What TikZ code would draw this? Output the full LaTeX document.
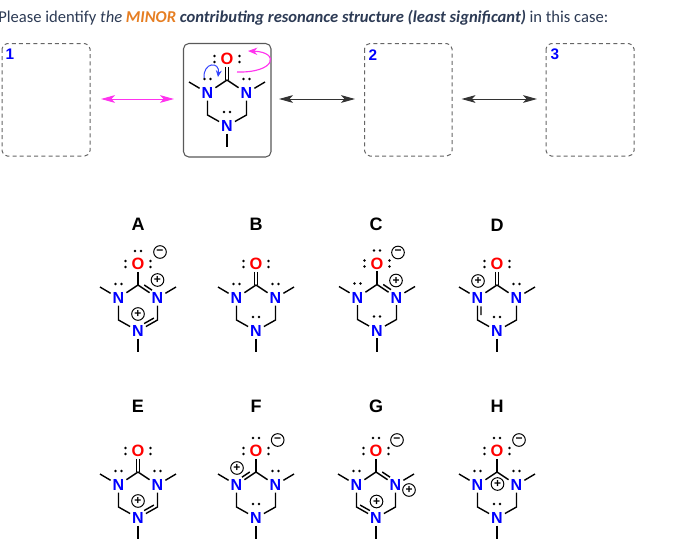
\documentclass[tikz,border=0pt]{standalone}
\usepackage{fontspec}
\setmainfont{Carlito}
\newfontfamily\chemfont{Liberation Sans}
\usetikzlibrary{arrows.meta,calc}
\definecolor{titlecol}{HTML}{2D3B55}
\definecolor{minorcol}{HTML}{E67E22}
\definecolor{magentaarrow}{HTML}{FF33EE}
\definecolor{bluearrow}{HTML}{3344FF}
\tikzset{
  bond/.style={line width=1.05pt,black},
  atomN/.style={inner sep=1.4pt,text=blue,font=\chemfont\bfseries\fontsize{12}{13}\selectfont},
  atomO/.style={inner sep=1.4pt,text=red,font=\chemfont\bfseries\fontsize{12.3}{14}\selectfont},
  letter/.style={font=\chemfont\bfseries\fontsize{13.5}{15}\selectfont},
  chg/.style={circle,draw,line width=0.75pt,minimum size=9.5pt,inner sep=0pt,font=\chemfont\bfseries\fontsize{9}{10}\selectfont},
  emptybox/.style={draw=black!60,dashed,line width=0.75pt,rounded corners=4pt,dash pattern=on 3pt off 2.4pt},
  numlab/.style={text=blue,font=\chemfont\bfseries\fontsize{11.5}{13}\selectfont},
  blackres/.style={{Stealth[length=10.5pt,width=5.8pt,inset=2.6pt]}-{Stealth[length=10.5pt,width=5.8pt,inset=2.6pt]},line width=0.75pt,black!80},
  magres/.style={{Stealth[length=10.5pt,width=5.8pt,inset=2.6pt]}-{Stealth[length=10.5pt,width=5.8pt,inset=2.6pt]},line width=0.75pt,magentaarrow},
}
% lone pairs
\newcommand{\hpair}[2]{\fill (#1-3,#2) circle (0.95pt) (#1+3,#2) circle (0.95pt);}
\newcommand{\vpair}[2]{\fill (#1,#2-3) circle (0.95pt) (#1,#2+3) circle (0.95pt);}
\newcommand{\oSide}{\vpair{-12.5}{-21}\vpair{12.5}{-21}}
\newcommand{\oTop}{\hpair{0}{-34}}
\newcommand{\lpL}{\hpair{-19.5}{-1}}
\newcommand{\lpR}{\hpair{19.5}{-1}}
\newcommand{\lpB}{\hpair{0}{32}}
% molecule: name, cx, cy, extras
\newcommand{\mol}[4]{%
\begin{scope}[shift={(#2,#3)}]
  \coordinate (#1c) at (0,0);
  \coordinate (#1cl) at (-19.5,35);
  \coordinate (#1cr) at (19.5,35);
  \coordinate (#1ml) at (-38,2);
  \coordinate (#1mr) at (38,2);
  \coordinate (#1mb) at (0,67);
  \node[atomO] (#1o) at (0,-21) {O};
  \node[atomN] (#1nl) at (-19.5,13) {N};
  \node[atomN] (#1nr) at (19.5,13) {N};
  \node[atomN] (#1nb) at (0,46) {N};
  \draw[bond] (#1c) -- (#1nl);
  \draw[bond] (#1c) -- (#1nr);
  \draw[bond] (#1nl) -- (#1cl) -- (#1nb);
  \draw[bond] (#1nr) -- (#1cr) -- (#1nb);
  \draw[bond] (#1nl) -- (#1ml);
  \draw[bond] (#1nr) -- (#1mr);
  \draw[bond] (#1nb) -- (#1mb);
  #4
\end{scope}}
\newcommand{\coSingle}[1]{\draw[bond] (#1o) -- (#1c);}
\newcommand{\coDouble}[1]{\draw[bond] ([xshift=-1.15pt]#1o.south) -- ([xshift=-1.15pt]#1c);\draw[bond] ([xshift=1.15pt]#1o.south) -- ([xshift=1.15pt]#1c);}
% second line of a double bond, on the given side (in pt)
\newcommand{\second}[3]{\draw[bond] ($(#1)!.22!(#2)!#3!90:(#2)$) -- ($(#1)!.62!(#2)!#3!90:(#2)$);}
\newcommand{\secondb}[3]{\draw[bond] ($(#1)!.1!(#2)!#3!90:(#2)$) -- ($(#1)!.6!(#2)!#3!90:(#2)$);}
\begin{document}
\begin{tikzpicture}[x=0.75pt,y=-0.75pt]
\useasboundingbox (0,0) rectangle (700,546);
\fill[white] (0,0) rectangle (700,546);
\node[anchor=base west,inner sep=0pt,text=titlecol,font=\fontsize{12.43}{15}\selectfont] (title) at (-2,22)
 {Please identify \textit{the} \textcolor{minorcol}{\textbf{\textit{MINOR}}} \textbf{\textit{contributing resonance structure (least significant)}} in this case:};
% answer boxes
\draw[emptybox] (2,43.5) rectangle (90,156);
\draw[emptybox] (364.5,43.5) rectangle (452,156);
\draw[emptybox] (546,43.5) rectangle (634,156);
\node[numlab] (n1) at (10,54.5) {1};
\node[numlab] (n2) at (373,55) {2};
\node[numlab] (n3) at (555,54.5) {3};
\draw[line width=0.8pt,black!65,rounded corners=4pt] (183.5,43.5) rectangle (271,157);
\coordinate (a1) at (101,99); \coordinate (a2) at (174,99);
\coordinate (a3) at (279,99); \coordinate (a4) at (355,99);
\coordinate (a5) at (461.5,99); \coordinate (a6) at (537,99);
\draw[magres] (a1) -- (a2);
\draw[blackres] (a3) -- (a4);
\draw[blackres] (a5) -- (a6);
% starting molecule
\mol{m}{227}{80}{\coDouble{m}\oSide\lpL\lpR\lpB}
\coordinate (cs1) at (237,72); \coordinate (ce1) at (248,51);
\draw[magentaarrow,line width=0.85pt,-{Stealth[length=7pt,width=5.5pt]}] (cs1) .. controls (276,73) and (280,52) .. (ce1);
\coordinate (cs2) at (204,78); \coordinate (ce2) at (218,77);
\draw[bluearrow,line width=0.75pt,-{Stealth[length=5pt,width=4.5pt]}] (cs2) .. controls (203,62) and (220,61) .. (ce2);
% choices
\node[letter] (la) at (138,224.5) {A};
\node[letter] (lb) at (256,224.5) {B};
\node[letter] (lc) at (376,224.5) {C};
\node[letter] (ld) at (497,225) {D};
\node[letter] (le) at (138,406.5) {E};
\node[letter] (lf) at (256,406.5) {F};
\node[letter] (lg) at (376,406.5) {G};
\node[letter] (lh) at (497,406.5) {H};
\mol{A}{138}{285}{\coSingle{A}\oSide\oTop\lpL
  \second{Ac}{Anr}{2.6pt}\secondb{Acr}{Anb}{-2.6pt}
  \node[chg] (Am) at (22,-33) {−};
  \node[chg] (Ap1) at (19.5,-5) {+};
  \node[chg] (Ap2) at (0,29) {+};}
\mol{B}{256}{285}{\coDouble{B}\oSide\lpL\lpR\lpB}
\mol{C}{377}{284.5}{\coSingle{C}\oSide\oTop\lpL\lpB
  \second{Cc}{Cnr}{2.6pt}
  \node[chg] (Cm) at (21,-32) {−};
  \node[chg] (Cp) at (19,-4) {+};}
\mol{D}{497}{285}{\coDouble{D}\oSide\lpR\lpB
  \second{Dcl}{Dnl}{-2.6pt}
  \node[chg] (Dp) at (-19,-4) {+};}
\mol{E}{138}{472}{\coDouble{E}\oSide\lpL\lpR
  \secondb{Ecr}{Enb}{-2.6pt}
  \node[chg] (Ep) at (0,29) {+};}
\mol{F}{256}{472}{\coSingle{F}\oSide\oTop\lpR\lpB
  \second{Fc}{Fnl}{-2.6pt}
  \node[chg] (Fm) at (21.7,-32) {−};
  \node[chg] (Fp) at (-19,-4) {+};}
\mol{G}{376}{472}{\coSingle{G}\oSide\oTop\lpL
  \second{Gc}{Gnr}{2.6pt}\secondb{Gcl}{Gnb}{2.6pt}
  \node[chg] (Gm) at (21,-32) {−};
  \node[chg] (Gp1) at (33,18) {+};
  \node[chg] (Gp2) at (0.5,29.5) {+};}
\mol{H}{497}{472}{\coSingle{H}\oSide\oTop\lpL\lpR\lpB
  \node[chg] (Hm) at (22,-32) {−};
  \node[chg] (Hp) at (0.5,12) {+};}
\end{tikzpicture}
\end{document}
